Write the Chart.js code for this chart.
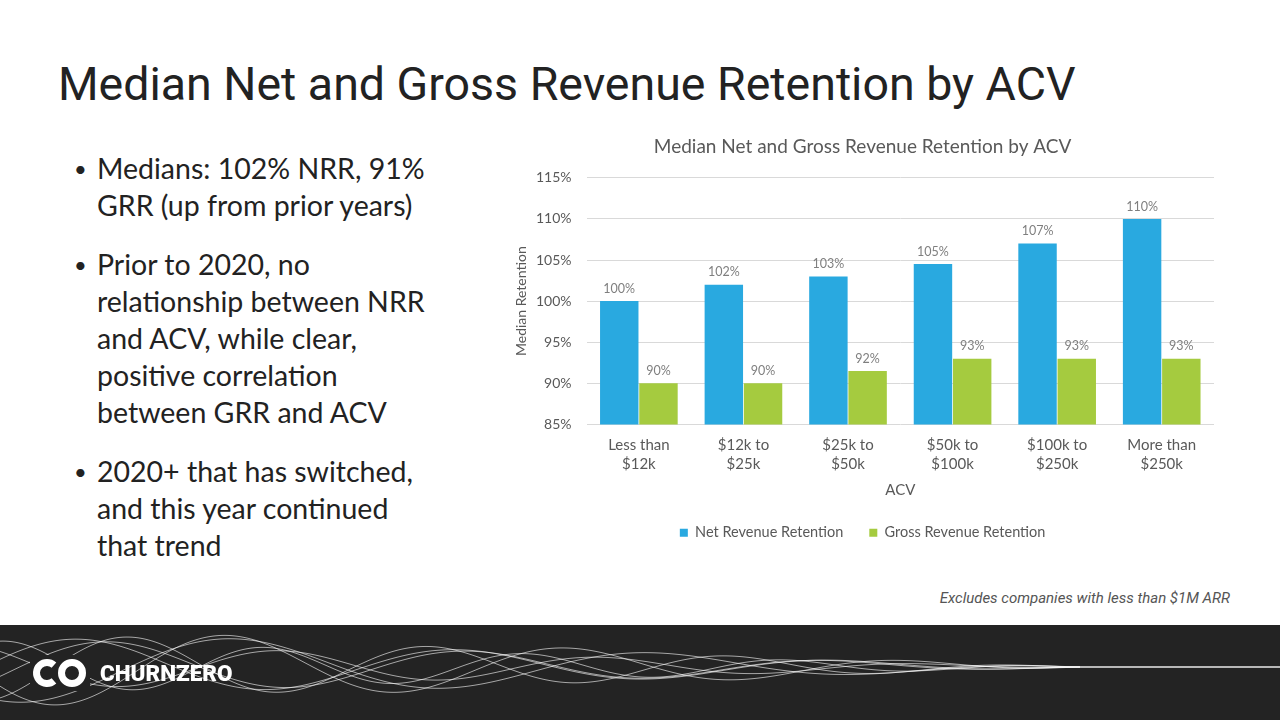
<!DOCTYPE html>
<html>
<head>
<meta charset="utf-8">
<script src="https://cdn.jsdelivr.net/npm/chart.js@4.4.1/dist/chart.umd.min.js"></script>
<style>
  html, body { margin:0; padding:0; width:1280px; height:720px; overflow:hidden; background:#fff; }
  #title { position:absolute; left:58px; top:57px; font-family:Roboto, sans-serif; font-size:46.5px; color:#222; letter-spacing:0px; white-space:nowrap; }
  #bullets { position:absolute; left:70px; top:150px; font-family:Lato, "Open Sans", sans-serif; font-size:28.5px; color:#222; line-height:37px; }
  .b { position:relative; padding-left:27px; margin-bottom:22px; white-space:nowrap; }
  .b:before { content:"•"; position:absolute; left:4px; top:0; font-size:22px; }
  #chartwrap { position:absolute; left:506px; top:128px; width:729px; height:432px; }
  #note { position:absolute; right:50px; top:589px; font-family:Roboto, sans-serif; font-style:italic; font-size:15px; color:#555; }
  #footer { position:absolute; left:0; top:625px; width:1280px; height:95px; background:#232323; }
  #waves { position:absolute; left:0; top:0; }
  #brand { position:absolute; left:100px; top:35px; font-family:Roboto, sans-serif; font-weight:900; font-size:22.5px; color:#fff; letter-spacing:0px; }
</style>
</head>
<body>
<div id="title">Median Net and Gross Revenue Retention by ACV</div>
<div id="bullets">
  <div class="b">Medians: 102% NRR, 91%<br>GRR (up from prior years)</div>
  <div class="b">Prior to 2020, no<br>relationship between NRR<br>and ACV, while clear,<br>positive correlation<br>between GRR and ACV</div>
  <div class="b">2020+ that has switched,<br>and this year continued<br>that trend</div>
</div>
<div id="chartwrap"><canvas id="c"></canvas></div>
<div id="note">Excludes companies with less than $1M ARR</div>
<div id="footer"><canvas id="waves" width="1280" height="95"></canvas><div id="brand">CHURNZERO</div></div>
<script>
const categories = [["Less than","$12k"],["$12k to","$25k"],["$25k to","$50k"],["$50k to","$100k"],["$100k to","$250k"],["More than","$250k"]];
const netRetention = [100, 102, 103, 104.5, 107, 110];
const grossRetention = [90, 90, 91.5, 93, 93, 93];
const yTicks = [85, 90, 95, 100, 105, 110, 115];

const grey = "#595959";
const FONT = "Lato, 'Open Sans', sans-serif";
const labelPlugin = {
  id: "barLabels",
  afterDatasetsDraw(chart) {
    const ctx = chart.ctx;
    ctx.save();
    ctx.font = "12.5px " + FONT;
    ctx.fillStyle = "#7f7f7f";
    ctx.textAlign = "center";
    ctx.textBaseline = "bottom";
    chart.data.datasets.forEach((ds, i) => {
      chart.getDatasetMeta(i).data.forEach((bar, j) => {
        ctx.fillText(Math.round(ds.data[j]) + "%", bar.x, bar.y - 6);
      });
    });
    ctx.restore();
  }
};

new Chart(document.getElementById("c"), {
  type: "bar",
  data: {
    labels: categories,
    datasets: [
      { label: "Net Revenue Retention", data: netRetention, backgroundColor: "#29A9E0", categoryPercentage: 0.75, barPercentage: 0.98 },
      { label: "Gross Revenue Retention", data: grossRetention, backgroundColor: "#A5CB3F", categoryPercentage: 0.75, barPercentage: 0.98 }
    ]
  },
  options: {
    responsive: true,
    maintainAspectRatio: false,
    animation: false,
    layout: { padding: { top: 0, right: 21, left: 5.2, bottom: 10 } },
    plugins: {
      title: { display: true, text: "Median Net and Gross Revenue Retention by ACV", color: grey, font: { family: FONT, size: 19, weight: "normal" }, padding: { top: 7, bottom: 20 } },
      legend: { position: "bottom", labels: { color: grey, boxWidth: 8, boxHeight: 8, font: { family: FONT, size: 14.5 }, padding: 26 } },
      tooltip: { enabled: false }
    },
    scales: {
      x: {
        grid: { display: false, drawTicks: false },
        border: { display: false },
        ticks: { color: grey, font: { family: FONT, size: 15, lineHeight: 1.27 }, padding: 11.5 },
        title: { display: true, text: "ACV", color: grey, font: { family: FONT, size: 15 }, padding: { top: -4, bottom: 0 } }
      },
      y: {
        min: 85, max: 115,
        afterBuildTicks(axis) { axis.ticks = yTicks.map(v => ({ value: v })); },
        grid: { color: "#d9d9d9", drawTicks: false },
        border: { display: false },
        ticks: { color: grey, font: { family: FONT, size: 14 }, padding: 15, callback: v => v + "%" },
        title: { display: true, text: "Median Retention", color: grey, font: { family: FONT, size: 14 }, padding: { top: 2, bottom: -9 } }
      }
    }
  },
  plugins: [labelPlugin]
});

// decorative footer waves converging to a line
const w = document.getElementById("waves").getContext("2d");
w.strokeStyle = "rgba(255,255,255,0.6)";
w.lineWidth = 1;
const cy = 42, endX = 1080;
const waves = [[40, 340, 0.5], [34, 300, 2.0], [30, 380, 3.4], [26, 260, 4.6], [36, 420, 1.2], [22, 320, 5.5], [28, 360, 2.8]];
waves.forEach(p => {
  w.beginPath();
  for (let x = 0; x <= endX; x += 3) {
    const amp = p[0] * (1 - x / endX);
    const y = cy + amp * Math.sin(2 * Math.PI * x / p[1] + p[2]);
    if (x === 0) w.moveTo(x, y); else w.lineTo(x, y);
  }
  w.stroke();
});
w.strokeStyle = "rgba(255,255,255,0.9)";
w.lineWidth = 1.5;
w.beginPath(); w.moveTo(endX, cy); w.lineTo(1280, cy); w.stroke();
// logo C and O
w.fillStyle = "#232323";
w.fillRect(30, 30, 60, 36);
w.strokeStyle = "#fff"; w.lineWidth = 7;
w.beginPath(); w.arc(47, 48, 10.5, Math.PI * 0.27, Math.PI * 1.73); w.stroke();
w.beginPath(); w.arc(72, 48, 10.5, 0, Math.PI * 2); w.stroke();
</script>
</body>
</html>
